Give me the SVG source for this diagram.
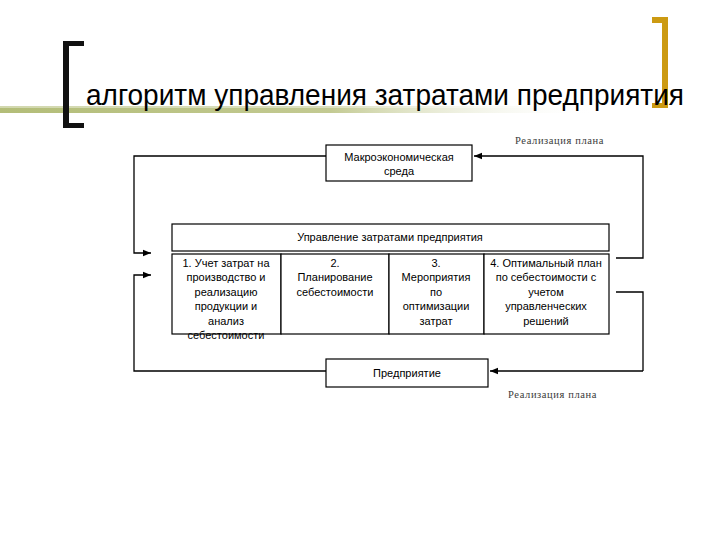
<svg xmlns="http://www.w3.org/2000/svg" width="720" height="540" viewBox="0 0 720 540">
<defs>
<linearGradient id="gl" x1="0" y1="0" x2="1" y2="0">
<stop offset="0" stop-color="#b3bd78"/>
<stop offset="0.55" stop-color="#c3ca92"/>
<stop offset="1" stop-color="#ffffff" stop-opacity="0"/>
</linearGradient>
<marker id="ah" viewBox="0 0 8 8" refX="8" refY="4" markerWidth="8" markerHeight="8" markerUnits="userSpaceOnUse" orient="auto">
<path d="M0,0.8 L8,4 L0,7.2 Z" fill="#000"/>
</marker>
</defs>
<style>
.box{fill:#fff;stroke:#000;stroke-width:1.2}
.t{font-family:"Liberation Sans",Arial,sans-serif;font-size:11px;fill:#000;text-anchor:middle}
.s{font-family:"Liberation Serif","Times New Roman",serif;font-size:10.5px;fill:#3a3a3a;letter-spacing:0.6px}
.c{fill:none;stroke:#000;stroke-width:1.3}
</style>
<rect width="720" height="540" fill="#fff"/>
<g id="header">
<rect x="0" y="106" width="600" height="2" fill="url(#gl)" opacity="0.6"/>
<rect x="0" y="108" width="600" height="5" fill="url(#gl)"/>
<path d="M84,41 H63 V128 H84 V123 H69 V46 H84 Z" fill="#111"/>
<path d="M652,17 H668 V108 H652 V103 H662 V23 H652 Z" fill="#cc9a12"/>
<text x="86" y="105" font-family="'Liberation Sans',Arial,sans-serif" font-size="29" fill="#000" textLength="598" lengthAdjust="spacingAndGlyphs">алгоритм управления затратами предприятия</text>
</g>
<g id="connectors">
<path class="c" d="M616,258 H643 V156 H474" marker-end="url(#ah)"/>
<path class="c" d="M326,156 H134 V253 H151" marker-end="url(#ah)"/>
<path class="c" d="M616,292 H643 V371"/>
<path class="c" d="M643,371 H490" stroke-width="2.4" marker-end="url(#ah)"/>
<path class="c" d="M326,371 H134 V275 H151" marker-end="url(#ah)"/>
</g>
<g id="label-top"><text class="s" x="515" y="144">Реализация плана</text></g>
<g id="label-bottom"><text class="s" x="508" y="398">Реализация плана</text></g>
<g id="macro">
<rect class="box" x="326" y="145" width="146" height="36"/>
<text class="t" x="399" y="161">Макроэкономическая</text>
<text class="t" x="399" y="175">среда</text>
</g>
<g id="management">
<rect class="box" x="172" y="224" width="437" height="27"/>
<text class="t" x="390" y="241">Управление затратами предприятия</text>
</g>
<g id="step1">
<rect class="box" x="172" y="254" width="109" height="80"/>
<text class="t" x="226" y="267">1. Учет затрат на</text>
<text class="t" x="226" y="281">производство и</text>
<text class="t" x="226" y="296">реализацию</text>
<text class="t" x="226" y="310">продукции и</text>
<text class="t" x="226" y="325">анализ</text>
<text class="t" x="226" y="339">себестоимости</text>
</g>
<g id="step2">
<rect class="box" x="281" y="254" width="108" height="80"/>
<text class="t" x="335" y="267">2.</text>
<text class="t" x="335" y="281">Планирование</text>
<text class="t" x="335" y="296">себестоимости</text>
</g>
<g id="step3">
<rect class="box" x="389" y="254" width="95" height="80"/>
<text class="t" x="436" y="267">3.</text>
<text class="t" x="436" y="281">Мероприятия</text>
<text class="t" x="436" y="296">по</text>
<text class="t" x="436" y="310">оптимизации</text>
<text class="t" x="436" y="325">затрат</text>
</g>
<g id="step4">
<rect class="box" x="484" y="254" width="125" height="80"/>
<text class="t" x="546" y="267">4. Оптимальный план</text>
<text class="t" x="546" y="281">по себестоимости с</text>
<text class="t" x="546" y="296">учетом</text>
<text class="t" x="546" y="310">управленческих</text>
<text class="t" x="546" y="325">решений</text>
</g>
<g id="enterprise">
<rect class="box" x="326" y="359" width="162" height="28"/>
<text class="t" x="407" y="377">Предприятие</text>
</g>
</svg>
